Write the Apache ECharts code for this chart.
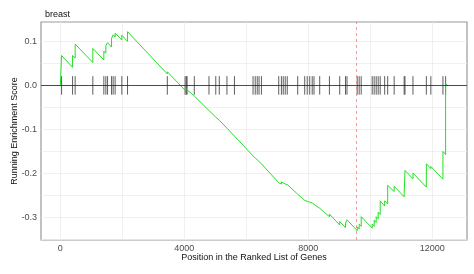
<!DOCTYPE html>
<html>
<head>
<meta charset="utf-8">
<script src="https://cdn.jsdelivr.net/npm/echarts@6/dist/echarts.min.js"></script>
<style>
  html, body { margin: 0; padding: 0; background: #fff; }
  #main { width: 474px; height: 274px; }
</style>
</head>
<body>
<div id="main"></div>
<script>
var myChart = echarts.init(document.getElementById('main'));

// gene set name and ranked list size
var setName = 'breast';
var geneCount = 12500;
var minPosition = 9560;

// positions of the set genes in the ranked list
var hitPositions = [39, 394, 477, 1048, 1403, 1468, 1523, 1652, 1703, 1768, 1984, 2168,
  3452, 4026, 4065, 4090, 4323, 4797, 5016, 5129, 5377, 5619, 6219, 6290, 6355, 6413,
  6490, 7048, 7135, 7194, 7258, 7323, 7661, 7887, 7968, 8048, 8129, 8187, 8371, 8684,
  9016, 9203, 9252, 9581, 9645, 9710, 10065, 10129, 10194, 10258, 10323, 10468, 10565,
  10774, 11097, 11123, 11381, 11813, 11958, 12348, 12435];

// running score just before / just after each hit
var esBefore = [0.000, 0.041, 0.062, 0.052, 0.058, 0.073, 0.086, 0.087, 0.103, 0.110, 0.103, 0.100,
  0.026, -0.011, -0.009, -0.008, -0.024, -0.057, -0.072, -0.079, -0.097, -0.115, -0.160, -0.165,
  -0.169, -0.173, -0.178, -0.221, -0.224, -0.223, -0.224, -0.225, -0.247, -0.261, -0.263, -0.265,
  -0.267, -0.267, -0.279, -0.298, -0.317, -0.323, -0.317, -0.330, -0.326, -0.320, -0.324, -0.320,
  -0.311, -0.303, -0.293, -0.274, -0.269, -0.241, -0.253, -0.248, -0.212, -0.231, -0.189, -0.213,
  -0.157];
var esAfter = [0.068, 0.068, 0.094, 0.084, 0.078, 0.090, 0.097, 0.107, 0.115, 0.119, 0.114, 0.122,
  0.031, -0.006, -0.006, -0.007, -0.022, -0.056, -0.071, -0.078, -0.096, -0.114, -0.159, -0.164,
  -0.168, -0.172, -0.177, -0.217, -0.219, -0.219, -0.220, -0.222, -0.244, -0.257, -0.259, -0.261,
  -0.263, -0.265, -0.275, -0.292, -0.309, -0.313, -0.305, -0.321, -0.315, -0.298, -0.315, -0.306,
  -0.298, -0.288, -0.262, -0.262, -0.227, -0.229, -0.246, -0.193, -0.199, -0.178, -0.184, -0.150,
  0.004];

// axis labels and grid positions
var xLabels = [0, 4000, 8000, 12000];
var xGrid = [0, 2000, 4000, 6000, 8000, 10000, 12000];
var yLabels = [-0.3, -0.2, -0.1, 0, 0.1];
var yGrid = [-0.35, -0.3, -0.25, -0.2, -0.15, -0.1, -0.05, 0, 0.05, 0.1];
var hitLow = -0.021, hitHigh = 0.021;

var curve = [[0, 0]];
for (var i = 0; i < hitPositions.length; i++) {
  curve.push([hitPositions[i], esBefore[i]]);
  curve.push([hitPositions[i], esAfter[i]]);
}
curve.push([geneCount, 0]);

var font = 'Liberation Sans, Arial, sans-serif';

var option = {
  animation: false,
  title: {
    text: setName,
    left: 40,
    top: 5,
    textStyle: { fontSize: 9, fontWeight: 'normal', color: '#111', fontFamily: font }
  },
  grid: {
    left: 41, right: 7, top: 22, bottom: 34,
    outerBoundsMode: 'none',
    containLabel: false,
    show: true, borderColor: '#999', borderWidth: 1.2
  },
  xAxis: {
    type: 'value',
    min: -625,
    max: 13125,
    name: 'Position in the Ranked List of Genes',
    nameLocation: 'middle',
    nameGap: 13,
    nameMoveOverlap: false,
    nameTextStyle: { fontSize: 9, color: '#111', fontFamily: font },
    axisLine: { show: false },
    axisTick: { show: false, customValues: xGrid },
    axisLabel: {
      customValues: xLabels, fontSize: 9, color: '#4d4d4d', margin: 4, fontFamily: font,
      formatter: function (v) { return String(v); }
    },
    splitLine: { show: true, lineStyle: { color: '#ececec', width: 0.8 } }
  },
  yAxis: {
    type: 'value',
    min: -0.351,
    max: 0.144,
    name: 'Running Enrichment Score',
    nameLocation: 'middle',
    nameGap: 22,
    nameMoveOverlap: false,
    nameTextStyle: { fontSize: 9, color: '#111', fontFamily: font },
    axisLine: { show: false },
    axisTick: { show: false, customValues: yGrid },
    axisLabel: {
      customValues: yLabels, fontSize: 9, color: '#4d4d4d', margin: 4, fontFamily: font,
      formatter: function (v) { return v.toFixed(1); }
    },
    splitLine: { show: true, lineStyle: { color: '#ececec', width: 0.8 } }
  },
  series: [
    {
      type: 'custom',
      z: 2,
      data: hitPositions.map(function (h) { return [h, 0]; }),
      encode: { x: 0, y: 1 },
      renderItem: function (params, api) {
        var p1 = api.coord([api.value(0), hitLow]);
        var p2 = api.coord([api.value(0), hitHigh]);
        return {
          type: 'line',
          shape: { x1: p1[0], y1: p1[1], x2: p2[0], y2: p2[1] },
          style: { stroke: 'rgba(40,40,40,0.75)', lineWidth: 1 }
        };
      },
      markLine: {
        silent: true,
        symbol: 'none',
        label: { show: false },
        data: [
          { yAxis: 0, lineStyle: { color: '#222', width: 0.8, type: 'solid' } },
          { xAxis: minPosition, lineStyle: { color: '#f08080', width: 0.8, type: [3, 3] } }
        ]
      }
    },
    {
      type: 'line',
      z: 3,
      data: curve,
      showSymbol: false,
      lineStyle: { color: '#22e022', width: 1 }
    }
  ]
};
myChart.setOption(option);
</script>
</body>
</html>
